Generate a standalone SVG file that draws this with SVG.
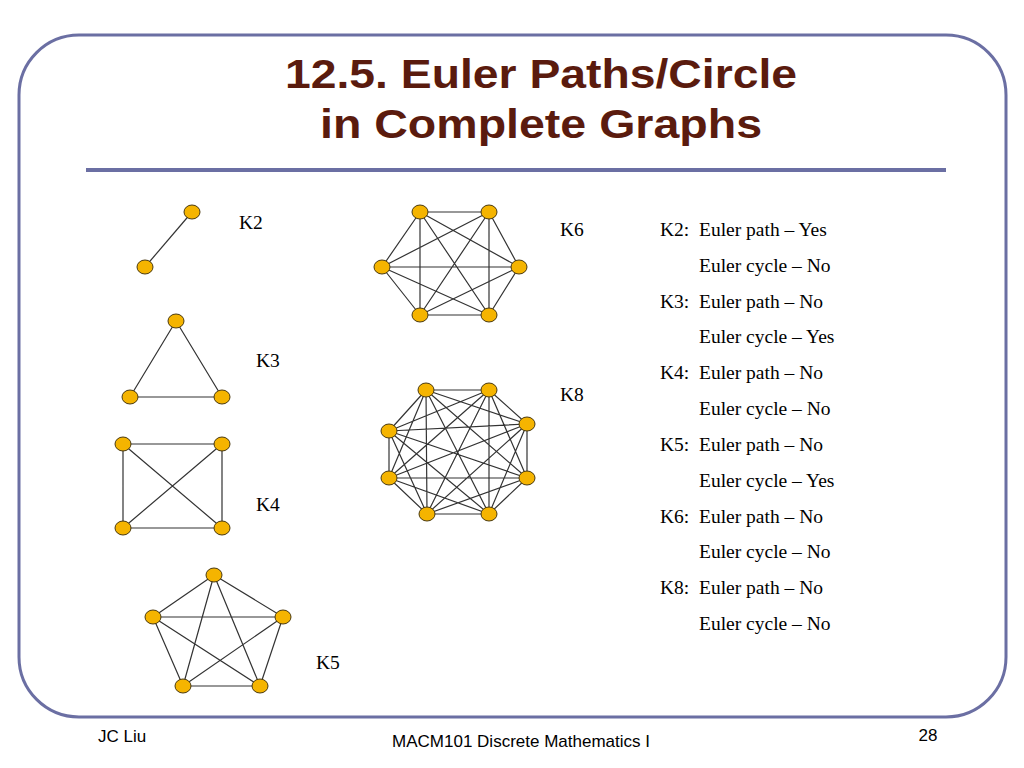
<svg xmlns="http://www.w3.org/2000/svg" width="1024" height="768" viewBox="0 0 1024 768">
<style>
.frame{fill:none;stroke:#6b6fa3;stroke-width:3}
.rule{stroke:#6b6fa3;stroke-width:4}
.title{font-family:"Liberation Sans",Arial,sans-serif;font-weight:bold;font-size:41px;fill:#5a1b0e;text-anchor:middle}
.edge{fill:none;stroke:#333;stroke-width:1.2}
.node{fill:#f5b400;stroke:#4a3a10;stroke-width:1}
.lbl{font-family:"Liberation Serif","Times New Roman",serif;font-size:19.5px;fill:#000}
.foot{font-family:"Liberation Sans",Arial,sans-serif;font-size:17px;fill:#000}
</style>
<rect width="1024" height="768" fill="#fff"/>
<rect class="frame" x="19" y="35" width="987" height="682" rx="60" ry="60"/>
<line class="rule" x1="86" y1="170" x2="946" y2="170"/>
<text class="title" x="541" y="88" textLength="512" lengthAdjust="spacingAndGlyphs">12.5. Euler Paths/Circle</text>
<text class="title" x="541" y="138" textLength="442" lengthAdjust="spacingAndGlyphs">in Complete Graphs</text>

<g id="connectors" class="edge">
<path id="k2-edges" d="M192,212L145,267"/>
<path id="k3-edges" d="M176,321L130,397M176,321L222,397M130,397L222,397"/>
<path id="k4-edges" d="M123,444L222,444M123,444L123,528M123,444L222,528M222,444L123,528M222,444L222,528M123,528L222,528"/>
<path id="k5-edges" d="M214,575L153,617M214,575L283,617M214,575L183,686M214,575L260,686M153,617L283,617M153,617L183,686M153,617L260,686M283,617L183,686M283,617L260,686M183,686L260,686"/>
<path id="k6-edges" d="M420,212L489,212M420,212L382,267M420,212L519,267M420,212L420,315M420,212L489,315M489,212L382,267M489,212L519,267M489,212L420,315M489,212L489,315M382,267L519,267M382,267L420,315M382,267L489,315M519,267L420,315M519,267L489,315M420,315L489,315"/>
<path id="k8-edges" d="M426,390L489,390M426,390L389,431M426,390L527,424M426,390L389,478M426,390L527,478M426,390L427,514M426,390L489,514M489,390L389,431M489,390L527,424M489,390L389,478M489,390L527,478M489,390L427,514M489,390L489,514M389,431L527,424M389,431L389,478M389,431L527,478M389,431L427,514M389,431L489,514M527,424L389,478M527,424L527,478M527,424L427,514M527,424L489,514M389,478L527,478M389,478L427,514M389,478L489,514M527,478L427,514M527,478L489,514M427,514L489,514"/>
</g>

<g id="k2-a"><ellipse class="node" cx="192" cy="212" rx="8" ry="7"/></g>
<g id="k2-b"><ellipse class="node" cx="145" cy="267" rx="8" ry="7"/></g>

<g id="k3-a"><ellipse class="node" cx="176" cy="321" rx="8" ry="7"/></g>
<g id="k3-b"><ellipse class="node" cx="130" cy="397" rx="8" ry="7"/></g>
<g id="k3-c"><ellipse class="node" cx="222" cy="397" rx="8" ry="7"/></g>

<g id="k4-a"><ellipse class="node" cx="123" cy="444" rx="8" ry="7"/></g>
<g id="k4-b"><ellipse class="node" cx="222" cy="444" rx="8" ry="7"/></g>
<g id="k4-c"><ellipse class="node" cx="123" cy="528" rx="8" ry="7"/></g>
<g id="k4-d"><ellipse class="node" cx="222" cy="528" rx="8" ry="7"/></g>

<g id="k5-a"><ellipse class="node" cx="214" cy="575" rx="8" ry="7"/></g>
<g id="k5-b"><ellipse class="node" cx="153" cy="617" rx="8" ry="7"/></g>
<g id="k5-c"><ellipse class="node" cx="283" cy="617" rx="8" ry="7"/></g>
<g id="k5-d"><ellipse class="node" cx="183" cy="686" rx="8" ry="7"/></g>
<g id="k5-e"><ellipse class="node" cx="260" cy="686" rx="8" ry="7"/></g>

<g id="k6-a"><ellipse class="node" cx="420" cy="212" rx="8" ry="7"/></g>
<g id="k6-b"><ellipse class="node" cx="489" cy="212" rx="8" ry="7"/></g>
<g id="k6-c"><ellipse class="node" cx="382" cy="267" rx="8" ry="7"/></g>
<g id="k6-d"><ellipse class="node" cx="519" cy="267" rx="8" ry="7"/></g>
<g id="k6-e"><ellipse class="node" cx="420" cy="315" rx="8" ry="7"/></g>
<g id="k6-f"><ellipse class="node" cx="489" cy="315" rx="8" ry="7"/></g>

<g id="k8-a"><ellipse class="node" cx="426" cy="390" rx="8" ry="7"/></g>
<g id="k8-b"><ellipse class="node" cx="489" cy="390" rx="8" ry="7"/></g>
<g id="k8-c"><ellipse class="node" cx="389" cy="431" rx="8" ry="7"/></g>
<g id="k8-d"><ellipse class="node" cx="527" cy="424" rx="8" ry="7"/></g>
<g id="k8-e"><ellipse class="node" cx="389" cy="478" rx="8" ry="7"/></g>
<g id="k8-f"><ellipse class="node" cx="527" cy="478" rx="8" ry="7"/></g>
<g id="k8-g"><ellipse class="node" cx="427" cy="514" rx="8" ry="7"/></g>
<g id="k8-h"><ellipse class="node" cx="489" cy="514" rx="8" ry="7"/></g>

<g id="graph-labels" class="lbl">
<text x="239" y="229">K2</text>
<text x="256" y="367">K3</text>
<text x="256" y="511">K4</text>
<text x="316" y="669">K5</text>
<text x="560" y="236">K6</text>
<text x="560" y="401">K8</text>
</g>

<g id="summary" class="lbl">
<text x="660" y="236">K2:</text><text x="699" y="236">Euler path – Yes</text>
<text x="699" y="272">Euler cycle – No</text>
<text x="660" y="308">K3:</text><text x="699" y="308">Euler path – No</text>
<text x="699" y="343">Euler cycle – Yes</text>
<text x="660" y="379">K4:</text><text x="699" y="379">Euler path – No</text>
<text x="699" y="415">Euler cycle – No</text>
<text x="660" y="451">K5:</text><text x="699" y="451">Euler path – No</text>
<text x="699" y="487">Euler cycle – Yes</text>
<text x="660" y="523">K6:</text><text x="699" y="523">Euler path – No</text>
<text x="699" y="558">Euler cycle – No</text>
<text x="660" y="594">K8:</text><text x="699" y="594">Euler path – No</text>
<text x="699" y="630">Euler cycle – No</text>
</g>

<g id="footer" class="foot">
<text x="98" y="742">JC Liu</text>
<text x="521" y="747" text-anchor="middle">MACM101 Discrete Mathematics I</text>
<text x="928" y="741" text-anchor="middle">28</text>
</g>
</svg>
